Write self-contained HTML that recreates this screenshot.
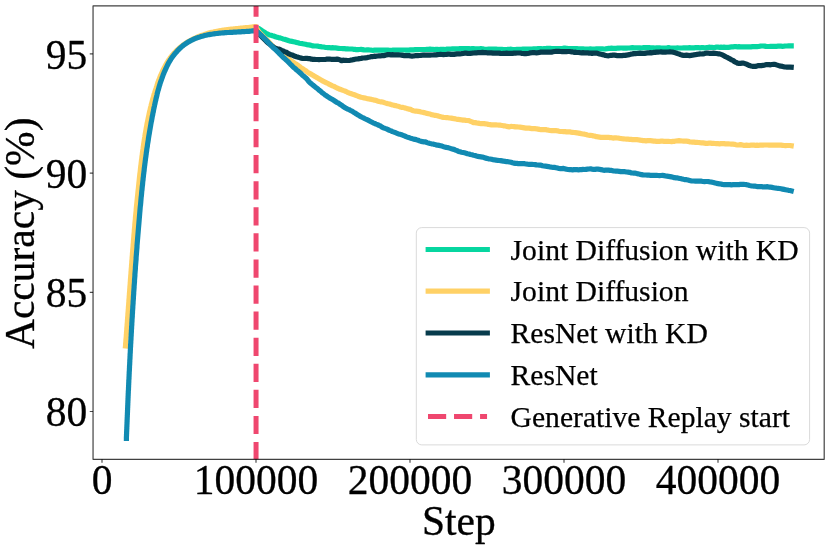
<!DOCTYPE html><html><head><meta charset="utf-8"><title>Accuracy vs Step</title><style>html,body{margin:0;padding:0;background:#fff;}</style></head><body><svg width="830" height="549" viewBox="0 0 830 549" stroke-linejoin="round" style="display:block;font-family:'Liberation Serif',serif;">
<rect width="830" height="549" fill="#fff"/>
<clipPath id="c"><rect x="93.05" y="5.9" width="731.1500000000001" height="453.40000000000003"/></clipPath>
<g clip-path="url(#c)">
<path d="M256.0,27.6 L257.5,28.0 L259.0,28.7 L260.5,29.7 L262.0,30.8 L263.5,31.7 L265.0,32.6 L266.5,33.6 L268.0,34.2 L269.5,35.0 L271.0,35.3 L272.5,35.8 L274.0,36.1 L275.5,36.8 L277.0,37.2 L278.5,37.6 L280.0,37.9 L281.5,38.4 L283.0,38.9 L284.5,39.3 L286.0,39.8 L287.5,40.3 L289.0,40.8 L290.5,41.2 L292.0,41.4 L293.5,41.7 L295.0,42.0 L296.5,42.4 L298.0,42.8 L299.5,43.2 L301.0,43.5 L302.5,43.7 L304.0,44.0 L305.5,44.3 L307.0,44.6 L308.5,44.8 L310.0,45.1 L311.5,45.5 L313.0,45.9 L314.5,46.0 L316.0,46.0 L317.5,46.1 L319.0,46.5 L320.5,46.7 L322.0,46.9 L323.5,47.0 L325.0,47.3 L326.5,47.5 L328.0,47.7 L329.5,47.7 L331.0,47.8 L332.5,47.7 L334.0,47.8 L335.5,47.9 L337.0,48.1 L338.5,48.3 L340.0,48.5 L341.5,48.5 L343.0,48.6 L344.5,48.6 L346.0,48.8 L347.5,48.8 L349.0,49.0 L350.5,49.0 L352.0,49.0 L353.5,49.3 L355.0,49.4 L356.5,49.7 L358.0,49.6 L359.5,49.5 L361.0,49.4 L362.5,49.6 L364.0,49.9 L365.5,50.0 L367.0,49.9 L368.5,49.9 L370.0,50.0 L371.5,50.2 L373.0,50.3 L374.5,50.2 L376.0,50.1 L377.5,50.1 L379.0,50.1 L380.5,50.2 L382.0,50.2 L383.5,50.1 L385.0,50.1 L386.5,50.1 L388.0,50.2 L389.5,50.3 L391.0,50.3 L392.5,50.2 L394.0,50.0 L395.5,50.1 L397.0,50.1 L398.5,50.1 L400.0,50.1 L401.5,50.0 L403.0,50.0 L404.5,50.0 L406.0,50.1 L407.5,50.0 L409.0,50.1 L410.5,49.8 L412.0,49.8 L413.5,49.8 L415.0,49.7 L416.5,49.6 L418.0,49.6 L419.5,49.5 L421.0,49.5 L422.5,49.5 L424.0,49.6 L425.5,49.5 L427.0,49.3 L428.5,49.4 L430.0,49.2 L431.5,49.4 L433.0,49.4 L434.5,49.5 L436.0,49.3 L437.5,49.4 L439.0,49.5 L440.5,49.4 L442.0,49.4 L443.5,49.3 L445.0,49.5 L446.5,49.2 L448.0,49.1 L449.5,49.0 L451.0,49.0 L452.5,48.8 L454.0,48.8 L455.5,48.9 L457.0,48.9 L458.5,48.8 L460.0,48.6 L461.5,48.7 L463.0,48.6 L464.5,48.7 L466.0,48.6 L467.5,48.7 L469.0,48.7 L470.5,48.8 L472.0,48.7 L473.5,48.7 L475.0,48.8 L476.5,48.8 L478.0,48.9 L479.5,48.9 L481.0,48.7 L482.5,48.8 L484.0,49.1 L485.5,49.3 L487.0,49.3 L488.5,49.2 L490.0,49.2 L491.5,49.2 L493.0,49.2 L494.5,49.2 L496.0,49.1 L497.5,49.3 L499.0,49.3 L500.5,49.4 L502.0,49.4 L503.5,49.5 L505.0,49.5 L506.5,49.7 L508.0,49.4 L509.5,49.3 L511.0,49.2 L512.5,49.6 L514.0,49.6 L515.5,49.5 L517.0,49.3 L518.5,49.4 L520.0,49.3 L521.5,49.4 L523.0,49.2 L524.5,49.1 L526.0,49.1 L527.5,49.1 L529.0,49.2 L530.5,49.2 L532.0,49.0 L533.5,48.9 L535.0,48.8 L536.5,48.8 L538.0,48.7 L539.5,48.7 L541.0,48.7 L542.5,48.8 L544.0,48.7 L545.5,48.7 L547.0,48.4 L548.5,48.4 L550.0,48.4 L551.5,48.6 L553.0,48.6 L554.5,48.6 L556.0,48.6 L557.5,48.5 L559.0,48.7 L560.5,48.5 L562.0,48.5 L563.5,48.2 L565.0,48.2 L566.5,48.3 L568.0,48.6 L569.5,48.7 L571.0,48.7 L572.5,48.7 L574.0,48.6 L575.5,48.7 L577.0,48.7 L578.5,48.8 L580.0,48.9 L581.5,48.9 L583.0,48.9 L584.5,49.1 L586.0,49.0 L587.5,49.2 L589.0,49.1 L590.5,48.9 L592.0,49.0 L593.5,49.0 L595.0,49.0 L596.5,48.8 L598.0,48.8 L599.5,48.8 L601.0,48.9 L602.5,48.9 L604.0,49.0 L605.5,48.9 L607.0,48.7 L608.5,48.4 L610.0,48.3 L611.5,48.2 L613.0,48.3 L614.5,48.3 L616.0,48.3 L617.5,48.2 L619.0,48.1 L620.5,48.0 L622.0,48.0 L623.5,48.2 L625.0,48.2 L626.5,48.2 L628.0,48.0 L629.5,48.0 L631.0,47.8 L632.5,47.6 L634.0,47.8 L635.5,47.8 L637.0,47.9 L638.5,47.9 L640.0,47.9 L641.5,48.0 L643.0,47.7 L644.5,47.7 L646.0,47.5 L647.5,47.7 L649.0,47.6 L650.5,47.8 L652.0,47.8 L653.5,47.9 L655.0,48.0 L656.5,47.9 L658.0,47.9 L659.5,47.9 L661.0,48.1 L662.5,48.2 L664.0,48.2 L665.5,48.0 L667.0,47.9 L668.5,47.7 L670.0,47.9 L671.5,48.0 L673.0,48.2 L674.5,48.0 L676.0,48.0 L677.5,47.9 L679.0,48.0 L680.5,48.0 L682.0,48.0 L683.5,47.9 L685.0,47.9 L686.5,47.8 L688.0,47.8 L689.5,47.7 L691.0,47.8 L692.5,47.8 L694.0,47.8 L695.5,47.7 L697.0,47.7 L698.5,47.7 L700.0,47.8 L701.5,47.7 L703.0,47.7 L704.5,47.8 L706.0,47.7 L707.5,47.5 L709.0,47.2 L710.5,47.3 L712.0,47.4 L713.5,47.5 L715.0,47.4 L716.5,47.2 L718.0,47.2 L719.5,47.3 L721.0,47.2 L722.5,47.3 L724.0,47.1 L725.5,47.3 L727.0,47.3 L728.5,47.3 L730.0,47.1 L731.5,46.9 L733.0,46.8 L734.5,46.7 L736.0,46.7 L737.5,46.8 L739.0,46.7 L740.5,46.8 L742.0,46.9 L743.5,46.9 L745.0,46.9 L746.5,46.8 L748.0,46.9 L749.5,46.8 L751.0,46.9 L752.5,46.7 L754.0,46.6 L755.5,46.6 L757.0,46.7 L758.5,46.5 L760.0,46.2 L761.5,46.0 L763.0,46.0 L764.5,46.1 L766.0,46.4 L767.5,46.5 L769.0,46.5 L770.5,46.4 L772.0,46.4 L773.5,46.3 L775.0,46.3 L776.5,46.3 L778.0,46.2 L779.5,46.2 L781.0,46.2 L782.5,46.3 L784.0,46.2 L785.5,46.0 L787.0,46.0 L788.5,45.9 L790.0,45.9 L791.2,45.9" fill="none" stroke="#06d6a0" stroke-width="5.2" stroke-linecap="square" stroke-linejoin="round"/>
<path d="M125.5,346.0 L125.6,345.0 L125.6,344.1 L125.7,343.1 L125.8,342.1 L125.9,341.2 L125.9,340.2 L126.0,339.2 L126.1,338.2 L126.2,337.3 L126.3,336.3 L126.3,335.3 L126.4,334.4 L126.5,333.4 L126.5,332.4 L126.6,331.5 L126.7,330.5 L126.8,329.5 L126.8,328.6 L126.9,327.6 L127.0,326.6 L127.1,325.7 L127.1,324.7 L127.2,323.7 L127.3,322.8 L127.4,321.8 L127.4,320.8 L127.5,319.8 L127.6,318.9 L127.6,317.9 L127.7,316.9 L127.8,316.0 L127.9,315.0 L127.9,314.0 L128.0,313.1 L128.1,312.1 L128.2,311.1 L128.2,310.2 L128.3,309.2 L128.4,308.2 L128.4,307.2 L128.5,306.3 L128.6,305.3 L128.7,304.3 L128.7,303.4 L128.8,302.4 L128.9,301.4 L128.9,300.4 L129.0,299.5 L129.1,298.5 L129.2,297.5 L129.2,296.6 L129.3,295.6 L129.4,294.6 L129.4,293.7 L129.5,292.7 L129.6,291.7 L129.7,290.7 L129.7,289.8 L129.8,288.8 L129.9,287.8 L129.9,286.9 L130.0,285.9 L130.1,284.9 L130.2,283.9 L130.2,283.0 L130.3,282.0 L130.4,281.0 L130.4,280.1 L130.5,279.1 L130.6,278.1 L130.7,277.1 L130.7,276.2 L130.8,275.2 L130.9,274.2 L131.0,273.3 L131.0,272.3 L131.1,271.3 L131.2,270.3 L131.2,269.4 L131.3,268.4 L131.4,267.4 L131.5,266.5 L131.5,265.5 L131.6,264.5 L131.7,263.6 L131.8,262.6 L131.8,261.6 L131.9,260.6 L132.0,259.7 L132.1,258.7 L132.1,257.7 L132.2,256.8 L132.3,255.8 L132.4,254.8 L132.4,253.8 L132.5,252.9 L132.6,251.9 L132.7,250.9 L132.7,250.0 L132.8,249.0 L132.9,248.0 L133.0,247.0 L133.1,246.1 L133.1,245.1 L133.2,244.1 L133.3,243.2 L133.4,242.2 L133.4,241.2 L133.5,240.2 L133.6,239.3 L133.7,238.3 L133.8,237.3 L133.9,236.4 L133.9,235.4 L134.0,234.4 L134.1,233.5 L134.2,232.5 L134.3,231.5 L134.3,230.5 L134.4,229.6 L134.5,228.6 L134.6,227.6 L134.7,226.7 L134.8,225.7 L134.8,224.7 L134.9,223.8 L135.0,222.8 L135.1,221.8 L135.2,220.8 L135.3,219.9 L135.4,218.9 L135.4,217.9 L135.5,217.0 L135.6,216.0 L135.7,215.0 L135.8,214.1 L135.9,213.1 L136.0,212.1 L136.1,211.2 L136.2,210.2 L136.2,209.2 L136.3,208.3 L136.4,207.3 L136.5,206.3 L136.6,205.3 L136.7,204.4 L136.8,203.4 L136.9,202.4 L137.0,201.5 L137.1,200.5 L137.2,199.5 L137.3,198.6 L137.4,197.6 L137.5,196.6 L137.6,195.7 L137.7,194.7 L137.8,193.7 L137.9,192.8 L138.0,191.8 L138.1,190.8 L138.2,189.9 L138.3,188.9 L138.4,187.9 L138.5,187.0 L138.6,186.0 L138.7,185.0 L138.8,184.1 L138.9,183.1 L139.0,182.1 L139.1,181.2 L139.2,180.2 L139.3,179.2 L139.4,178.3 L139.5,177.3 L139.6,176.4 L139.7,175.4 L139.8,174.4 L139.9,173.5 L140.1,172.5 L140.2,171.5 L140.3,170.6 L140.4,169.6 L140.5,168.6 L140.6,167.7 L140.7,166.7 L140.8,165.8 L141.0,164.8 L141.1,163.8 L141.2,162.9 L141.3,161.9 L141.4,160.9 L141.5,160.0 L141.7,159.0 L141.8,158.1 L141.9,157.1 L142.0,156.1 L142.2,155.2 L142.3,154.2 L142.4,153.2 L142.5,152.3 L142.7,151.3 L142.8,150.4 L142.9,149.4 L143.1,148.4 L143.2,147.5 L143.3,146.5 L143.5,145.6 L143.6,144.6 L143.7,143.7 L143.9,142.7 L144.0,141.7 L144.2,140.8 L144.3,139.8 L144.5,138.9 L144.6,137.9 L144.8,136.9 L144.9,136.0 L145.1,135.0 L145.2,134.1 L145.4,133.1 L145.6,132.2 L145.7,131.2 L145.9,130.3 L146.1,129.3 L146.2,128.3 L146.4,127.4 L146.6,126.4 L146.8,125.5 L146.9,124.5 L147.1,123.6 L147.3,122.6 L147.5,121.7 L147.7,120.7 L147.9,119.8 L148.1,118.8 L148.3,117.8 L148.5,116.9 L148.7,115.9 L148.9,115.0 L149.1,114.0 L149.3,113.1 L149.5,112.1 L149.7,111.2 L150.0,110.2 L150.2,109.3 L150.4,108.3 L150.6,107.4 L150.9,106.4 L151.1,105.5 L151.3,104.5 L151.6,103.6 L151.8,102.7 L152.1,101.7 L152.3,100.8 L152.6,99.8 L152.9,98.9 L153.1,97.9 L153.4,97.0 L153.7,96.0 L153.9,95.1 L154.2,94.1 L154.5,93.2 L154.8,92.2 L155.1,91.3 L155.4,90.4 L155.7,89.4 L156.0,88.5 L156.3,87.5 L156.6,86.6 L156.9,85.7 L157.2,84.7 L157.5,83.8 L157.9,82.8 L158.2,81.9 L158.5,81.0 L158.9,80.0 L159.2,79.1 L159.6,78.2 L159.9,77.3 L160.3,76.3 L160.7,75.4 L161.1,74.5 L161.5,73.6 L161.9,72.7 L162.3,71.8 L162.7,70.9 L163.1,70.0 L163.5,69.2 L164.0,68.3 L164.4,67.4 L164.9,66.5 L165.3,65.7 L165.8,64.8 L166.3,64.0 L166.8,63.2 L167.3,62.3 L167.8,61.5 L168.3,60.7 L168.8,59.9 L169.4,59.1 L169.9,58.4 L170.5,57.6 L171.0,56.8 L171.6,56.1 L172.2,55.3 L172.8,54.6 L173.4,53.9 L174.1,53.2 L174.7,52.5 L175.4,51.8 L176.0,51.1 L176.7,50.4 L177.4,49.8 L178.1,49.2 L178.8,48.5 L179.5,47.9 L180.3,47.3 L181.0,46.7 L181.8,46.1 L182.5,45.5 L183.3,45.0 L184.1,44.4 L184.9,43.9 L185.7,43.3 L186.5,42.8 L187.3,42.3 L188.1,41.8 L188.9,41.3 L189.8,40.8 L190.6,40.4 L191.4,39.9 L192.3,39.4 L193.2,39.0 L194.0,38.6 L194.9,38.2 L195.8,37.8 L196.7,37.4 L197.6,37.0 L198.5,36.6 L199.4,36.2 L200.3,35.9 L201.2,35.5 L202.1,35.2 L203.1,34.9 L204.0,34.6 L204.9,34.3 L205.9,34.0 L206.8,33.7 L207.7,33.4 L208.7,33.1 L209.6,32.9 L210.6,32.6 L211.5,32.4 L212.5,32.2 L213.5,32.0 L214.4,31.7 L215.4,31.5 L216.3,31.4 L217.3,31.2 L218.3,31.0 L219.3,30.8 L220.2,30.7 L221.2,30.5 L222.2,30.3 L223.2,30.2 L224.1,30.0 L225.1,29.9 L226.1,29.8 L227.1,29.7 L228.0,29.5 L229.0,29.4 L230.0,29.3 L231.0,29.2 L232.0,29.1 L232.9,29.0 L233.9,28.9 L234.9,28.8 L235.9,28.7 L236.8,28.6 L237.8,28.5 L238.8,28.4 L239.8,28.3 L240.7,28.2 L241.7,28.1 L242.6,28.0 L243.6,27.9 L244.6,27.8 L245.5,27.7 L246.5,27.6 L247.4,27.6 L248.4,27.5 L249.3,27.4 L250.3,27.3 L251.2,27.2 L252.1,27.0 L253.1,26.9 L254.0,26.8 L254.9,26.7 L255.9,26.6 L257.5,29.8 L259.0,32.1 L260.5,33.7 L262.0,35.2 L263.5,36.7 L265.0,38.1 L266.5,39.6 L268.0,41.0 L269.5,42.7 L271.0,44.6 L272.5,46.2 L274.0,47.4 L275.5,48.6 L277.0,49.7 L278.5,50.9 L280.0,52.2 L281.5,53.3 L283.0,54.5 L284.5,55.5 L286.0,56.8 L287.5,58.0 L289.0,59.2 L290.5,60.3 L292.0,61.3 L293.5,62.4 L295.0,63.4 L296.5,64.3 L298.0,65.4 L299.5,66.5 L301.0,67.9 L302.5,68.6 L304.0,69.7 L305.5,70.5 L307.0,71.8 L308.5,72.8 L310.0,73.6 L311.5,74.4 L313.0,75.3 L314.5,76.2 L316.0,77.1 L317.5,77.8 L319.0,78.8 L320.5,79.7 L322.0,80.7 L323.5,81.4 L325.0,82.1 L326.5,82.8 L328.0,83.5 L329.5,84.4 L331.0,85.1 L332.5,85.8 L334.0,86.4 L335.5,87.2 L337.0,88.0 L338.5,88.6 L340.0,89.3 L341.5,89.8 L343.0,90.4 L344.5,90.9 L346.0,91.5 L347.5,92.3 L349.0,93.0 L350.5,93.4 L352.0,94.0 L353.5,94.4 L355.0,95.0 L356.5,95.6 L358.0,96.2 L359.5,96.7 L361.0,97.2 L362.5,97.5 L364.0,97.9 L365.5,98.1 L367.0,98.7 L368.5,98.8 L370.0,99.2 L371.5,99.4 L373.0,99.8 L374.5,100.2 L376.0,100.4 L377.5,101.0 L379.0,101.5 L380.5,101.8 L382.0,101.9 L383.5,102.3 L385.0,102.9 L386.5,103.4 L388.0,103.7 L389.5,104.0 L391.0,104.5 L392.5,104.9 L394.0,105.4 L395.5,105.6 L397.0,106.0 L398.5,106.3 L400.0,106.9 L401.5,107.3 L403.0,107.4 L404.5,107.9 L406.0,108.2 L407.5,108.8 L409.0,109.1 L410.5,109.4 L412.0,110.2 L413.5,110.7 L415.0,111.1 L416.5,111.2 L418.0,111.3 L419.5,111.6 L421.0,112.0 L422.5,112.3 L424.0,112.6 L425.5,113.0 L427.0,113.4 L428.5,113.7 L430.0,114.0 L431.5,114.7 L433.0,114.9 L434.5,115.3 L436.0,115.4 L437.5,115.8 L439.0,116.3 L440.5,116.6 L442.0,117.1 L443.5,117.4 L445.0,117.5 L446.5,117.7 L448.0,117.7 L449.5,118.0 L451.0,118.1 L452.5,118.4 L454.0,118.7 L455.5,118.9 L457.0,119.4 L458.5,119.4 L460.0,119.7 L461.5,119.8 L463.0,120.2 L464.5,120.2 L466.0,120.4 L467.5,120.5 L469.0,120.7 L470.5,121.3 L472.0,121.9 L473.5,122.6 L475.0,122.6 L476.5,122.9 L478.0,123.1 L479.5,123.4 L481.0,123.6 L482.5,123.7 L484.0,123.6 L485.5,123.8 L487.0,124.0 L488.5,124.5 L490.0,124.6 L491.5,124.8 L493.0,124.8 L494.5,124.8 L496.0,124.9 L497.5,125.0 L499.0,125.1 L500.5,125.2 L502.0,125.5 L503.5,125.8 L505.0,125.9 L506.5,126.4 L508.0,126.6 L509.5,126.9 L511.0,126.4 L512.5,126.5 L514.0,126.6 L515.5,126.9 L517.0,126.9 L518.5,127.0 L520.0,127.2 L521.5,127.4 L523.0,127.6 L524.5,127.9 L526.0,128.2 L527.5,128.1 L529.0,128.2 L530.5,128.4 L532.0,128.7 L533.5,128.6 L535.0,128.7 L536.5,128.8 L538.0,129.1 L539.5,129.4 L541.0,129.6 L542.5,129.6 L544.0,129.6 L545.5,129.5 L547.0,130.0 L548.5,130.2 L550.0,130.5 L551.5,130.6 L553.0,130.7 L554.5,130.7 L556.0,130.7 L557.5,130.8 L559.0,131.2 L560.5,131.5 L562.0,131.5 L563.5,131.6 L565.0,131.7 L566.5,131.9 L568.0,131.9 L569.5,131.8 L571.0,132.1 L572.5,132.3 L574.0,132.5 L575.5,132.6 L577.0,132.8 L578.5,133.1 L580.0,133.4 L581.5,133.7 L583.0,134.0 L584.5,134.2 L586.0,134.6 L587.5,135.0 L589.0,135.3 L590.5,135.3 L592.0,135.5 L593.5,136.0 L595.0,136.2 L596.5,136.7 L598.0,136.9 L599.5,137.1 L601.0,137.3 L602.5,137.4 L604.0,137.4 L605.5,137.3 L607.0,137.4 L608.5,137.3 L610.0,137.7 L611.5,137.7 L613.0,138.1 L614.5,137.9 L616.0,137.9 L617.5,138.0 L619.0,138.2 L620.5,138.5 L622.0,138.7 L623.5,138.8 L625.0,139.0 L626.5,139.1 L628.0,139.2 L629.5,139.3 L631.0,139.4 L632.5,139.6 L634.0,139.7 L635.5,139.6 L637.0,139.7 L638.5,139.8 L640.0,140.2 L641.5,140.3 L643.0,140.6 L644.5,140.7 L646.0,140.9 L647.5,140.7 L649.0,140.7 L650.5,140.7 L652.0,140.8 L653.5,141.1 L655.0,141.1 L656.5,141.3 L658.0,141.3 L659.5,141.3 L661.0,141.2 L662.5,141.2 L664.0,141.3 L665.5,141.3 L667.0,141.3 L668.5,141.4 L670.0,141.5 L671.5,141.6 L673.0,141.4 L674.5,141.3 L676.0,141.0 L677.5,140.8 L679.0,140.7 L680.5,140.8 L682.0,141.0 L683.5,141.1 L685.0,141.0 L686.5,141.1 L688.0,141.3 L689.5,141.8 L691.0,142.0 L692.5,142.2 L694.0,142.2 L695.5,142.4 L697.0,142.4 L698.5,142.5 L700.0,142.7 L701.5,142.8 L703.0,142.9 L704.5,143.1 L706.0,143.3 L707.5,143.3 L709.0,143.2 L710.5,143.2 L712.0,143.4 L713.5,143.4 L715.0,143.5 L716.5,143.7 L718.0,143.7 L719.5,143.8 L721.0,143.6 L722.5,143.6 L724.0,143.6 L725.5,143.8 L727.0,143.9 L728.5,143.9 L730.0,144.0 L731.5,144.2 L733.0,144.2 L734.5,144.3 L736.0,144.7 L737.5,145.0 L739.0,144.9 L740.5,144.7 L742.0,144.9 L743.5,145.3 L745.0,145.3 L746.5,145.2 L748.0,145.3 L749.5,145.3 L751.0,145.2 L752.5,145.2 L754.0,145.1 L755.5,145.3 L757.0,145.2 L758.5,145.3 L760.0,145.2 L761.5,145.2 L763.0,145.1 L764.5,145.0 L766.0,145.0 L767.5,145.0 L769.0,145.1 L770.5,145.2 L772.0,145.2 L773.5,145.2 L775.0,145.2 L776.5,145.2 L778.0,145.2 L779.5,145.0 L781.0,145.1 L782.5,145.3 L784.0,145.5 L785.5,145.7 L787.0,145.5 L788.5,145.5 L790.0,145.5 L791.2,145.7" fill="none" stroke="#ffd166" stroke-width="5.2" stroke-linecap="square" stroke-linejoin="round"/>
<path d="M256.0,30.8 L257.5,32.3 L259.0,33.9 L260.5,35.4 L262.0,36.9 L263.5,38.5 L265.0,40.0 L266.5,41.5 L268.0,42.9 L269.5,44.0 L271.0,45.2 L272.5,46.4 L274.0,47.6 L275.5,48.2 L277.0,48.7 L278.5,49.0 L280.0,49.5 L281.5,50.3 L283.0,50.9 L284.5,51.6 L286.0,52.1 L287.5,53.0 L289.0,53.9 L290.5,54.5 L292.0,54.9 L293.5,55.6 L295.0,56.3 L296.5,56.8 L298.0,57.1 L299.5,57.6 L301.0,58.2 L302.5,58.4 L304.0,58.5 L305.5,58.4 L307.0,58.4 L308.5,58.6 L310.0,58.7 L311.5,59.2 L313.0,59.4 L314.5,59.4 L316.0,59.5 L317.5,59.5 L319.0,59.6 L320.5,59.5 L322.0,59.5 L323.5,59.5 L325.0,59.5 L326.5,59.2 L328.0,59.1 L329.5,59.0 L331.0,59.3 L332.5,59.3 L334.0,59.3 L335.5,59.3 L337.0,59.1 L338.5,59.3 L340.0,59.9 L341.5,60.7 L343.0,60.2 L344.5,60.3 L346.0,60.4 L347.5,60.5 L349.0,60.5 L350.5,60.2 L352.0,60.0 L353.5,59.6 L355.0,59.3 L356.5,59.0 L358.0,58.9 L359.5,58.6 L361.0,58.5 L362.5,58.0 L364.0,58.0 L365.5,57.8 L367.0,57.6 L368.5,57.3 L370.0,57.0 L371.5,56.6 L373.0,56.6 L374.5,56.2 L376.0,56.3 L377.5,56.0 L379.0,55.9 L380.5,55.8 L382.0,55.7 L383.5,55.7 L385.0,55.4 L386.5,54.8 L388.0,54.6 L389.5,54.6 L391.0,54.8 L392.5,54.7 L394.0,54.8 L395.5,54.8 L397.0,54.9 L398.5,54.9 L400.0,55.0 L401.5,55.1 L403.0,55.4 L404.5,55.7 L406.0,55.7 L407.5,55.6 L409.0,55.6 L410.5,56.0 L412.0,56.1 L413.5,56.0 L415.0,55.7 L416.5,55.7 L418.0,55.6 L419.5,55.5 L421.0,55.3 L422.5,55.2 L424.0,55.2 L425.5,55.1 L427.0,55.2 L428.5,55.1 L430.0,55.2 L431.5,55.0 L433.0,55.0 L434.5,54.8 L436.0,54.9 L437.5,54.6 L439.0,54.5 L440.5,54.4 L442.0,54.5 L443.5,54.6 L445.0,54.5 L446.5,54.4 L448.0,54.2 L449.5,54.1 L451.0,54.3 L452.5,54.4 L454.0,54.3 L455.5,54.1 L457.0,53.9 L458.5,53.8 L460.0,53.8 L461.5,53.7 L463.0,53.5 L464.5,53.2 L466.0,53.2 L467.5,53.3 L469.0,53.5 L470.5,53.3 L472.0,53.2 L473.5,53.0 L475.0,52.9 L476.5,52.8 L478.0,52.7 L479.5,52.6 L481.0,52.6 L482.5,52.4 L484.0,52.6 L485.5,52.5 L487.0,52.8 L488.5,52.8 L490.0,52.8 L491.5,52.9 L493.0,53.2 L494.5,53.1 L496.0,53.2 L497.5,53.1 L499.0,53.1 L500.5,53.4 L502.0,53.5 L503.5,53.4 L505.0,53.3 L506.5,53.2 L508.0,53.4 L509.5,53.3 L511.0,53.4 L512.5,53.3 L514.0,53.1 L515.5,53.2 L517.0,53.0 L518.5,53.0 L520.0,53.0 L521.5,53.3 L523.0,53.5 L524.5,53.7 L526.0,53.6 L527.5,53.5 L529.0,53.2 L530.5,52.8 L532.0,52.7 L533.5,52.5 L535.0,52.7 L536.5,52.8 L538.0,52.7 L539.5,52.5 L541.0,52.1 L542.5,52.1 L544.0,52.1 L545.5,52.2 L547.0,52.1 L548.5,52.2 L550.0,52.2 L551.5,52.2 L553.0,51.8 L554.5,51.5 L556.0,51.4 L557.5,51.4 L559.0,51.4 L560.5,51.5 L562.0,51.6 L563.5,51.7 L565.0,51.6 L566.5,51.6 L568.0,51.5 L569.5,51.5 L571.0,51.8 L572.5,51.9 L574.0,52.4 L575.5,52.2 L577.0,52.5 L578.5,52.5 L580.0,52.7 L581.5,52.8 L583.0,52.7 L584.5,52.8 L586.0,52.8 L587.5,52.8 L589.0,53.1 L590.5,53.1 L592.0,53.5 L593.5,53.0 L595.0,53.1 L596.5,53.1 L598.0,53.5 L599.5,53.9 L601.0,54.3 L602.5,54.6 L604.0,54.9 L605.5,55.5 L607.0,55.7 L608.5,55.8 L610.0,55.4 L611.5,55.4 L613.0,55.2 L614.5,55.2 L616.0,55.4 L617.5,55.7 L619.0,55.7 L620.5,55.5 L622.0,55.6 L623.5,55.4 L625.0,55.4 L626.5,55.1 L628.0,54.9 L629.5,54.7 L631.0,54.1 L632.5,53.9 L634.0,53.6 L635.5,53.6 L637.0,53.5 L638.5,53.3 L640.0,53.2 L641.5,53.4 L643.0,53.4 L644.5,53.4 L646.0,53.1 L647.5,52.9 L649.0,52.9 L650.5,52.6 L652.0,52.8 L653.5,52.4 L655.0,52.4 L656.5,52.1 L658.0,52.1 L659.5,52.0 L661.0,51.9 L662.5,52.1 L664.0,52.0 L665.5,52.2 L667.0,52.0 L668.5,52.0 L670.0,51.8 L671.5,52.0 L673.0,52.1 L674.5,52.6 L676.0,53.0 L677.5,53.5 L679.0,53.9 L680.5,54.6 L682.0,55.2 L683.5,55.4 L685.0,55.3 L686.5,55.1 L688.0,55.3 L689.5,55.6 L691.0,55.4 L692.5,55.2 L694.0,54.8 L695.5,54.7 L697.0,54.3 L698.5,54.2 L700.0,53.9 L701.5,54.0 L703.0,53.8 L704.5,53.6 L706.0,53.2 L707.5,53.0 L709.0,53.3 L710.5,53.3 L712.0,53.3 L713.5,53.1 L715.0,53.3 L716.5,53.5 L718.0,53.8 L719.5,53.9 L721.0,54.4 L722.5,54.9 L724.0,55.8 L725.5,56.7 L727.0,57.3 L728.5,58.1 L730.0,58.8 L731.5,59.9 L733.0,60.4 L734.5,61.6 L736.0,62.3 L737.5,63.1 L739.0,63.3 L740.5,63.3 L742.0,63.1 L743.5,63.1 L745.0,63.6 L746.5,64.2 L748.0,64.9 L749.5,65.6 L751.0,66.0 L752.5,66.3 L754.0,66.4 L755.5,66.4 L757.0,66.0 L758.5,65.6 L760.0,65.5 L761.5,65.6 L763.0,65.3 L764.5,65.2 L766.0,64.6 L767.5,64.6 L769.0,64.6 L770.5,64.8 L772.0,64.5 L773.5,64.4 L775.0,64.3 L776.5,64.9 L778.0,65.4 L779.5,65.9 L781.0,66.2 L782.5,66.4 L784.0,66.8 L785.5,67.0 L787.0,67.2 L788.5,67.1 L790.0,67.1 L791.2,67.2" fill="none" stroke="#073b4c" stroke-width="5.2" stroke-linecap="square" stroke-linejoin="round"/>
<path d="M126.4,438.3 L126.4,437.1 L126.5,435.9 L126.5,434.7 L126.6,433.5 L126.6,432.3 L126.7,431.1 L126.7,429.9 L126.8,428.7 L126.8,427.5 L126.9,426.3 L126.9,425.1 L127.0,423.9 L127.0,422.7 L127.1,421.5 L127.1,420.3 L127.2,419.1 L127.2,417.9 L127.3,416.7 L127.3,415.5 L127.4,414.4 L127.4,413.2 L127.5,412.0 L127.5,410.8 L127.6,409.6 L127.6,408.4 L127.7,407.2 L127.7,406.0 L127.8,404.8 L127.8,403.6 L127.9,402.4 L127.9,401.2 L128.0,400.0 L128.0,398.8 L128.1,397.6 L128.1,396.4 L128.2,395.2 L128.2,394.0 L128.3,392.8 L128.3,391.6 L128.4,390.4 L128.5,389.2 L128.5,388.0 L128.6,386.8 L128.6,385.6 L128.7,384.4 L128.7,383.2 L128.8,382.0 L128.8,380.8 L128.9,379.6 L129.0,378.5 L129.0,377.3 L129.1,376.1 L129.1,374.9 L129.2,373.7 L129.2,372.5 L129.3,371.3 L129.4,370.1 L129.4,368.9 L129.5,367.7 L129.5,366.5 L129.6,365.3 L129.7,364.1 L129.7,362.9 L129.8,361.7 L129.8,360.5 L129.9,359.3 L130.0,358.1 L130.0,356.9 L130.1,355.7 L130.1,354.5 L130.2,353.3 L130.3,352.1 L130.3,351.0 L130.4,349.8 L130.4,348.6 L130.5,347.4 L130.6,346.2 L130.6,345.0 L130.7,343.8 L130.8,342.6 L130.8,341.4 L130.9,340.2 L131.0,339.0 L131.0,337.8 L131.1,336.6 L131.2,335.4 L131.2,334.2 L131.3,333.0 L131.4,331.8 L131.4,330.6 L131.5,329.4 L131.6,328.3 L131.6,327.1 L131.7,325.9 L131.8,324.7 L131.8,323.5 L131.9,322.3 L132.0,321.1 L132.0,319.9 L132.1,318.7 L132.2,317.5 L132.3,316.3 L132.3,315.1 L132.4,313.9 L132.5,312.7 L132.5,311.5 L132.6,310.3 L132.7,309.1 L132.8,307.9 L132.8,306.8 L132.9,305.6 L133.0,304.4 L133.1,303.2 L133.1,302.0 L133.2,300.8 L133.3,299.6 L133.4,298.4 L133.4,297.2 L133.5,296.0 L133.6,294.8 L133.7,293.6 L133.7,292.4 L133.8,291.2 L133.9,290.0 L134.0,288.8 L134.1,287.6 L134.1,286.4 L134.2,285.3 L134.3,284.1 L134.4,282.9 L134.5,281.7 L134.5,280.5 L134.6,279.3 L134.7,278.1 L134.8,276.9 L134.9,275.7 L134.9,274.5 L135.0,273.3 L135.1,272.1 L135.2,270.9 L135.3,269.7 L135.4,268.5 L135.4,267.3 L135.5,266.1 L135.6,265.0 L135.7,263.8 L135.8,262.6 L135.9,261.4 L136.0,260.2 L136.1,259.0 L136.1,257.8 L136.2,256.6 L136.3,255.4 L136.4,254.2 L136.5,253.0 L136.6,251.8 L136.7,250.6 L136.8,249.4 L136.9,248.2 L137.0,247.0 L137.0,245.8 L137.1,244.7 L137.2,243.5 L137.3,242.3 L137.4,241.1 L137.5,239.9 L137.6,238.7 L137.7,237.5 L137.8,236.3 L137.9,235.1 L138.0,233.9 L138.1,232.7 L138.2,231.5 L138.3,230.3 L138.4,229.1 L138.5,227.9 L138.6,226.7 L138.7,225.5 L138.8,224.4 L138.9,223.2 L139.0,222.0 L139.1,220.8 L139.2,219.6 L139.3,218.4 L139.4,217.2 L139.5,216.0 L139.6,214.8 L139.7,213.6 L139.8,212.4 L139.9,211.2 L140.0,210.0 L140.1,208.8 L140.2,207.6 L140.3,206.4 L140.5,205.2 L140.6,204.0 L140.7,202.9 L140.8,201.7 L140.9,200.5 L141.0,199.3 L141.1,198.1 L141.2,196.9 L141.4,195.7 L141.5,194.5 L141.6,193.3 L141.7,192.1 L141.8,190.9 L142.0,189.7 L142.1,188.5 L142.2,187.3 L142.3,186.2 L142.5,185.0 L142.6,183.8 L142.7,182.6 L142.8,181.4 L143.0,180.2 L143.1,179.0 L143.2,177.8 L143.4,176.6 L143.5,175.4 L143.6,174.2 L143.8,173.1 L143.9,171.9 L144.1,170.7 L144.2,169.5 L144.3,168.3 L144.5,167.1 L144.6,165.9 L144.8,164.7 L144.9,163.6 L145.1,162.4 L145.2,161.2 L145.4,160.0 L145.5,158.8 L145.7,157.6 L145.9,156.4 L146.0,155.2 L146.2,154.1 L146.3,152.9 L146.5,151.7 L146.7,150.5 L146.8,149.3 L147.0,148.1 L147.2,147.0 L147.4,145.8 L147.5,144.6 L147.7,143.4 L147.9,142.2 L148.1,141.0 L148.3,139.9 L148.4,138.7 L148.6,137.5 L148.8,136.3 L149.0,135.1 L149.2,134.0 L149.4,132.8 L149.6,131.6 L149.8,130.4 L150.0,129.3 L150.2,128.1 L150.4,126.9 L150.6,125.7 L150.8,124.6 L151.0,123.4 L151.2,122.2 L151.5,121.0 L151.7,119.9 L151.9,118.7 L152.1,117.5 L152.3,116.3 L152.6,115.2 L152.8,114.0 L153.0,112.8 L153.3,111.7 L153.5,110.5 L153.7,109.3 L154.0,108.1 L154.2,107.0 L154.5,105.8 L154.7,104.6 L155.0,103.5 L155.2,102.3 L155.5,101.1 L155.8,100.0 L156.0,98.8 L156.3,97.7 L156.6,96.5 L156.9,95.3 L157.1,94.2 L157.4,93.0 L157.7,91.9 L158.0,90.7 L158.4,89.6 L158.7,88.4 L159.0,87.3 L159.3,86.1 L159.7,85.0 L160.0,83.8 L160.4,82.7 L160.8,81.5 L161.2,80.4 L161.6,79.3 L162.0,78.1 L162.4,77.0 L162.8,75.9 L163.2,74.7 L163.7,73.6 L164.1,72.5 L164.6,71.4 L165.1,70.3 L165.6,69.2 L166.1,68.1 L166.6,67.0 L167.1,65.9 L167.7,64.8 L168.2,63.7 L168.8,62.7 L169.4,61.6 L170.0,60.6 L170.7,59.5 L171.3,58.5 L172.0,57.5 L172.7,56.5 L173.4,55.6 L174.2,54.6 L174.9,53.7 L175.7,52.8 L176.5,51.9 L177.3,51.0 L178.1,50.1 L178.9,49.3 L179.8,48.5 L180.6,47.7 L181.5,46.9 L182.4,46.1 L183.3,45.4 L184.3,44.7 L185.2,44.0 L186.2,43.3 L187.2,42.7 L188.2,42.1 L189.2,41.5 L190.2,40.9 L191.2,40.4 L192.3,39.9 L193.3,39.4 L194.4,38.9 L195.5,38.4 L196.6,38.0 L197.7,37.6 L198.8,37.2 L199.9,36.9 L201.0,36.5 L202.2,36.2 L203.3,35.9 L204.5,35.6 L205.7,35.3 L206.8,35.1 L208.0,34.8 L209.2,34.6 L210.4,34.4 L211.6,34.2 L212.8,34.0 L214.0,33.8 L215.2,33.7 L216.4,33.5 L217.7,33.4 L218.9,33.2 L220.1,33.1 L221.3,33.0 L222.6,32.9 L223.8,32.8 L225.0,32.7 L226.2,32.6 L227.5,32.5 L228.7,32.5 L229.9,32.4 L231.2,32.3 L232.4,32.3 L233.6,32.2 L234.8,32.1 L236.0,32.1 L237.2,32.0 L238.4,31.9 L239.6,31.9 L240.8,31.8 L242.0,31.7 L243.2,31.7 L244.4,31.6 L245.6,31.5 L246.7,31.4 L247.9,31.3 L249.0,31.3 L250.2,31.2 L251.3,31.0 L252.4,30.9 L253.5,30.8 L254.6,30.7 L255.7,30.5 L257.5,32.0 L259.0,33.3 L260.5,34.6 L262.0,36.0 L263.5,37.5 L265.0,38.9 L266.5,40.7 L268.0,42.2 L269.5,43.7 L271.0,45.2 L272.5,46.8 L274.0,48.3 L275.5,49.7 L277.0,51.1 L278.5,52.5 L280.0,54.2 L281.5,55.7 L283.0,57.2 L284.5,58.4 L286.0,59.8 L287.5,61.2 L289.0,62.7 L290.5,64.3 L292.0,65.7 L293.5,67.4 L295.0,68.4 L296.5,69.9 L298.0,71.0 L299.5,72.4 L301.0,73.6 L302.5,75.2 L304.0,76.4 L305.5,77.7 L307.0,79.2 L308.5,81.1 L310.0,82.7 L311.5,83.9 L313.0,85.2 L314.5,86.3 L316.0,87.7 L317.5,88.7 L319.0,90.1 L320.5,91.2 L322.0,92.6 L323.5,93.6 L325.0,94.9 L326.5,95.8 L328.0,96.9 L329.5,97.9 L331.0,98.7 L332.5,99.6 L334.0,100.5 L335.5,101.5 L337.0,102.5 L338.5,103.2 L340.0,104.3 L341.5,105.2 L343.0,106.3 L344.5,107.4 L346.0,108.2 L347.5,109.1 L349.0,109.6 L350.5,110.5 L352.0,111.2 L353.5,112.2 L355.0,113.0 L356.5,114.0 L358.0,114.9 L359.5,115.9 L361.0,116.7 L362.5,117.5 L364.0,118.2 L365.5,119.0 L367.0,119.7 L368.5,120.4 L370.0,121.2 L371.5,122.0 L373.0,122.8 L374.5,123.4 L376.0,124.1 L377.5,124.6 L379.0,125.4 L380.5,126.0 L382.0,127.1 L383.5,127.8 L385.0,128.4 L386.5,128.9 L388.0,129.6 L389.5,130.4 L391.0,130.9 L392.5,131.6 L394.0,132.1 L395.5,132.7 L397.0,133.3 L398.5,133.9 L400.0,134.3 L401.5,134.7 L403.0,135.3 L404.5,135.9 L406.0,136.6 L407.5,137.2 L409.0,137.6 L410.5,138.2 L412.0,138.6 L413.5,139.1 L415.0,139.3 L416.5,139.8 L418.0,140.2 L419.5,140.9 L421.0,141.4 L422.5,141.6 L424.0,141.8 L425.5,141.9 L427.0,142.6 L428.5,143.1 L430.0,143.5 L431.5,143.8 L433.0,144.0 L434.5,144.4 L436.0,144.9 L437.5,145.2 L439.0,145.4 L440.5,145.7 L442.0,146.1 L443.5,146.7 L445.0,147.1 L446.5,147.4 L448.0,147.6 L449.5,148.1 L451.0,148.6 L452.5,149.2 L454.0,149.4 L455.5,150.1 L457.0,150.7 L458.5,151.4 L460.0,151.8 L461.5,152.2 L463.0,152.5 L464.5,152.8 L466.0,153.2 L467.5,153.7 L469.0,154.0 L470.5,154.5 L472.0,154.8 L473.5,155.2 L475.0,155.5 L476.5,156.0 L478.0,156.4 L479.5,156.7 L481.0,156.9 L482.5,157.1 L484.0,157.5 L485.5,158.1 L487.0,158.4 L488.5,158.8 L490.0,159.0 L491.5,159.3 L493.0,159.6 L494.5,159.8 L496.0,160.2 L497.5,160.3 L499.0,160.5 L500.5,160.6 L502.0,160.9 L503.5,161.2 L505.0,161.3 L506.5,161.7 L508.0,161.7 L509.5,162.0 L511.0,162.3 L512.5,162.8 L514.0,163.1 L515.5,163.4 L517.0,163.4 L518.5,163.7 L520.0,163.6 L521.5,163.7 L523.0,163.5 L524.5,163.7 L526.0,164.0 L527.5,164.2 L529.0,164.3 L530.5,164.3 L532.0,164.4 L533.5,164.5 L535.0,164.6 L536.5,164.9 L538.0,165.0 L539.5,165.2 L541.0,165.2 L542.5,165.7 L544.0,166.0 L545.5,166.2 L547.0,166.4 L548.5,166.6 L550.0,167.0 L551.5,167.2 L553.0,167.3 L554.5,167.4 L556.0,167.7 L557.5,168.1 L559.0,168.5 L560.5,168.7 L562.0,168.6 L563.5,168.4 L565.0,168.9 L566.5,169.2 L568.0,169.5 L569.5,169.6 L571.0,169.7 L572.5,169.8 L574.0,169.6 L575.5,169.6 L577.0,169.7 L578.5,169.8 L580.0,169.7 L581.5,169.6 L583.0,169.4 L584.5,169.5 L586.0,169.3 L587.5,169.1 L589.0,169.0 L590.5,168.8 L592.0,169.1 L593.5,169.3 L595.0,169.4 L596.5,169.2 L598.0,169.2 L599.5,169.3 L601.0,169.7 L602.5,169.9 L604.0,170.3 L605.5,170.2 L607.0,170.1 L608.5,170.1 L610.0,170.3 L611.5,170.4 L613.0,170.8 L614.5,171.0 L616.0,171.2 L617.5,171.2 L619.0,171.3 L620.5,171.6 L622.0,171.6 L623.5,171.7 L625.0,171.7 L626.5,172.0 L628.0,172.1 L629.5,172.3 L631.0,172.8 L632.5,173.0 L634.0,173.2 L635.5,173.2 L637.0,173.6 L638.5,173.9 L640.0,174.4 L641.5,174.6 L643.0,174.9 L644.5,175.0 L646.0,175.0 L647.5,175.2 L649.0,175.2 L650.5,175.3 L652.0,175.3 L653.5,175.3 L655.0,175.3 L656.5,175.3 L658.0,175.5 L659.5,175.6 L661.0,175.5 L662.5,175.4 L664.0,175.6 L665.5,176.0 L667.0,176.2 L668.5,176.4 L670.0,176.6 L671.5,176.9 L673.0,177.2 L674.5,177.7 L676.0,177.9 L677.5,177.9 L679.0,178.3 L680.5,178.5 L682.0,178.9 L683.5,179.3 L685.0,179.6 L686.5,179.7 L688.0,180.0 L689.5,180.4 L691.0,180.8 L692.5,181.0 L694.0,181.0 L695.5,181.2 L697.0,181.0 L698.5,181.1 L700.0,181.1 L701.5,181.2 L703.0,181.5 L704.5,181.6 L706.0,181.5 L707.5,181.5 L709.0,181.7 L710.5,182.0 L712.0,182.2 L713.5,182.5 L715.0,182.9 L716.5,183.4 L718.0,183.6 L719.5,183.8 L721.0,184.0 L722.5,184.5 L724.0,184.6 L725.5,184.6 L727.0,184.5 L728.5,184.7 L730.0,184.6 L731.5,184.8 L733.0,184.7 L734.5,184.7 L736.0,184.6 L737.5,184.6 L739.0,184.6 L740.5,184.3 L742.0,184.3 L743.5,184.3 L745.0,184.5 L746.5,184.7 L748.0,185.1 L749.5,185.5 L751.0,185.8 L752.5,186.0 L754.0,186.2 L755.5,186.2 L757.0,186.6 L758.5,186.5 L760.0,186.6 L761.5,186.6 L763.0,187.0 L764.5,186.9 L766.0,186.9 L767.5,186.7 L769.0,187.1 L770.5,187.2 L772.0,187.4 L773.5,187.7 L775.0,188.0 L776.5,188.2 L778.0,188.3 L779.5,188.5 L781.0,188.8 L782.5,189.1 L784.0,189.4 L785.5,189.7 L787.0,190.0 L788.5,190.3 L790.0,190.5 L791.2,190.8" fill="none" stroke="#118ab2" stroke-width="5.2" stroke-linecap="square" stroke-linejoin="round"/>
<path d="M256.05,460.2 L256.05,5.9" stroke="#ef476f" stroke-width="5.0" stroke-dasharray="18.2 7.88" fill="none"/>
</g>
<path d="M102.00,459.3 v3.4 M256.00,459.3 v3.4 M410.00,459.3 v3.4 M564.00,459.3 v3.4 M718.00,459.3 v3.4 M93.05,411.50 h-3.3 M93.05,292.30 h-3.3 M93.05,173.10 h-3.3 M93.05,53.90 h-3.3" stroke="#000" stroke-opacity="0.7" stroke-width="1.19" fill="none"/>
<rect x="93.05" y="5.9" width="731.1500000000001" height="453.40000000000003" fill="none" stroke="#000" stroke-opacity="0.75" stroke-width="1.19"/>
<g fill="#000" stroke="#000" stroke-width="0.3">
<text x="102.00" y="494.4" font-size="41.5" text-anchor="middle">0</text>
<text x="256.00" y="494.4" font-size="41.5" text-anchor="middle">100000</text>
<text x="410.00" y="494.4" font-size="41.5" text-anchor="middle">200000</text>
<text x="564.00" y="494.4" font-size="41.5" text-anchor="middle">300000</text>
<text x="718.00" y="494.4" font-size="41.5" text-anchor="middle">400000</text>
<text x="87.2" y="426.40" font-size="41.5" text-anchor="end">80</text>
<text x="87.2" y="307.20" font-size="41.5" text-anchor="end">85</text>
<text x="87.2" y="188.00" font-size="41.5" text-anchor="end">90</text>
<text x="87.2" y="68.80" font-size="41.5" text-anchor="end">95</text>
<text x="458.9" y="534.6" font-size="41.5" text-anchor="middle">Step</text>
<text transform="translate(34.2,233.3) rotate(-90)" font-size="41.5" text-anchor="middle">Accuracy (%)</text>
</g>
<rect x="416.3" y="227.6" width="393.3" height="217.29999999999998" rx="5.5" fill="#fff" fill-opacity="0.8" stroke="#dadada" stroke-width="1"/>
<path d="M425.6,249.5 H489.9" stroke="#06d6a0" stroke-width="5.2" fill="none"/>
<text x="510.6" y="259.6" font-size="29.6" stroke="#000" stroke-width="0.25">Joint Diffusion with KD</text>
<path d="M425.6,291.2 H489.9" stroke="#ffd166" stroke-width="5.2" fill="none"/>
<text x="510.6" y="301.4" font-size="29.6" stroke="#000" stroke-width="0.25">Joint Diffusion</text>
<path d="M425.6,333.0 H489.9" stroke="#073b4c" stroke-width="5.2" fill="none"/>
<text x="510.6" y="343.1" font-size="29.6" stroke="#000" stroke-width="0.25">ResNet with KD</text>
<path d="M425.6,374.8 H489.9" stroke="#118ab2" stroke-width="5.2" fill="none"/>
<text x="510.6" y="384.9" font-size="29.6" stroke="#000" stroke-width="0.25">ResNet</text>
<path d="M428.0,416.5 H487.05" stroke="#ef476f" stroke-width="5.2" stroke-dasharray="18.17 7.86" fill="none"/>
<text x="510.6" y="426.6" font-size="29.6" stroke="#000" stroke-width="0.25">Generative Replay start</text>
</svg></body></html>
